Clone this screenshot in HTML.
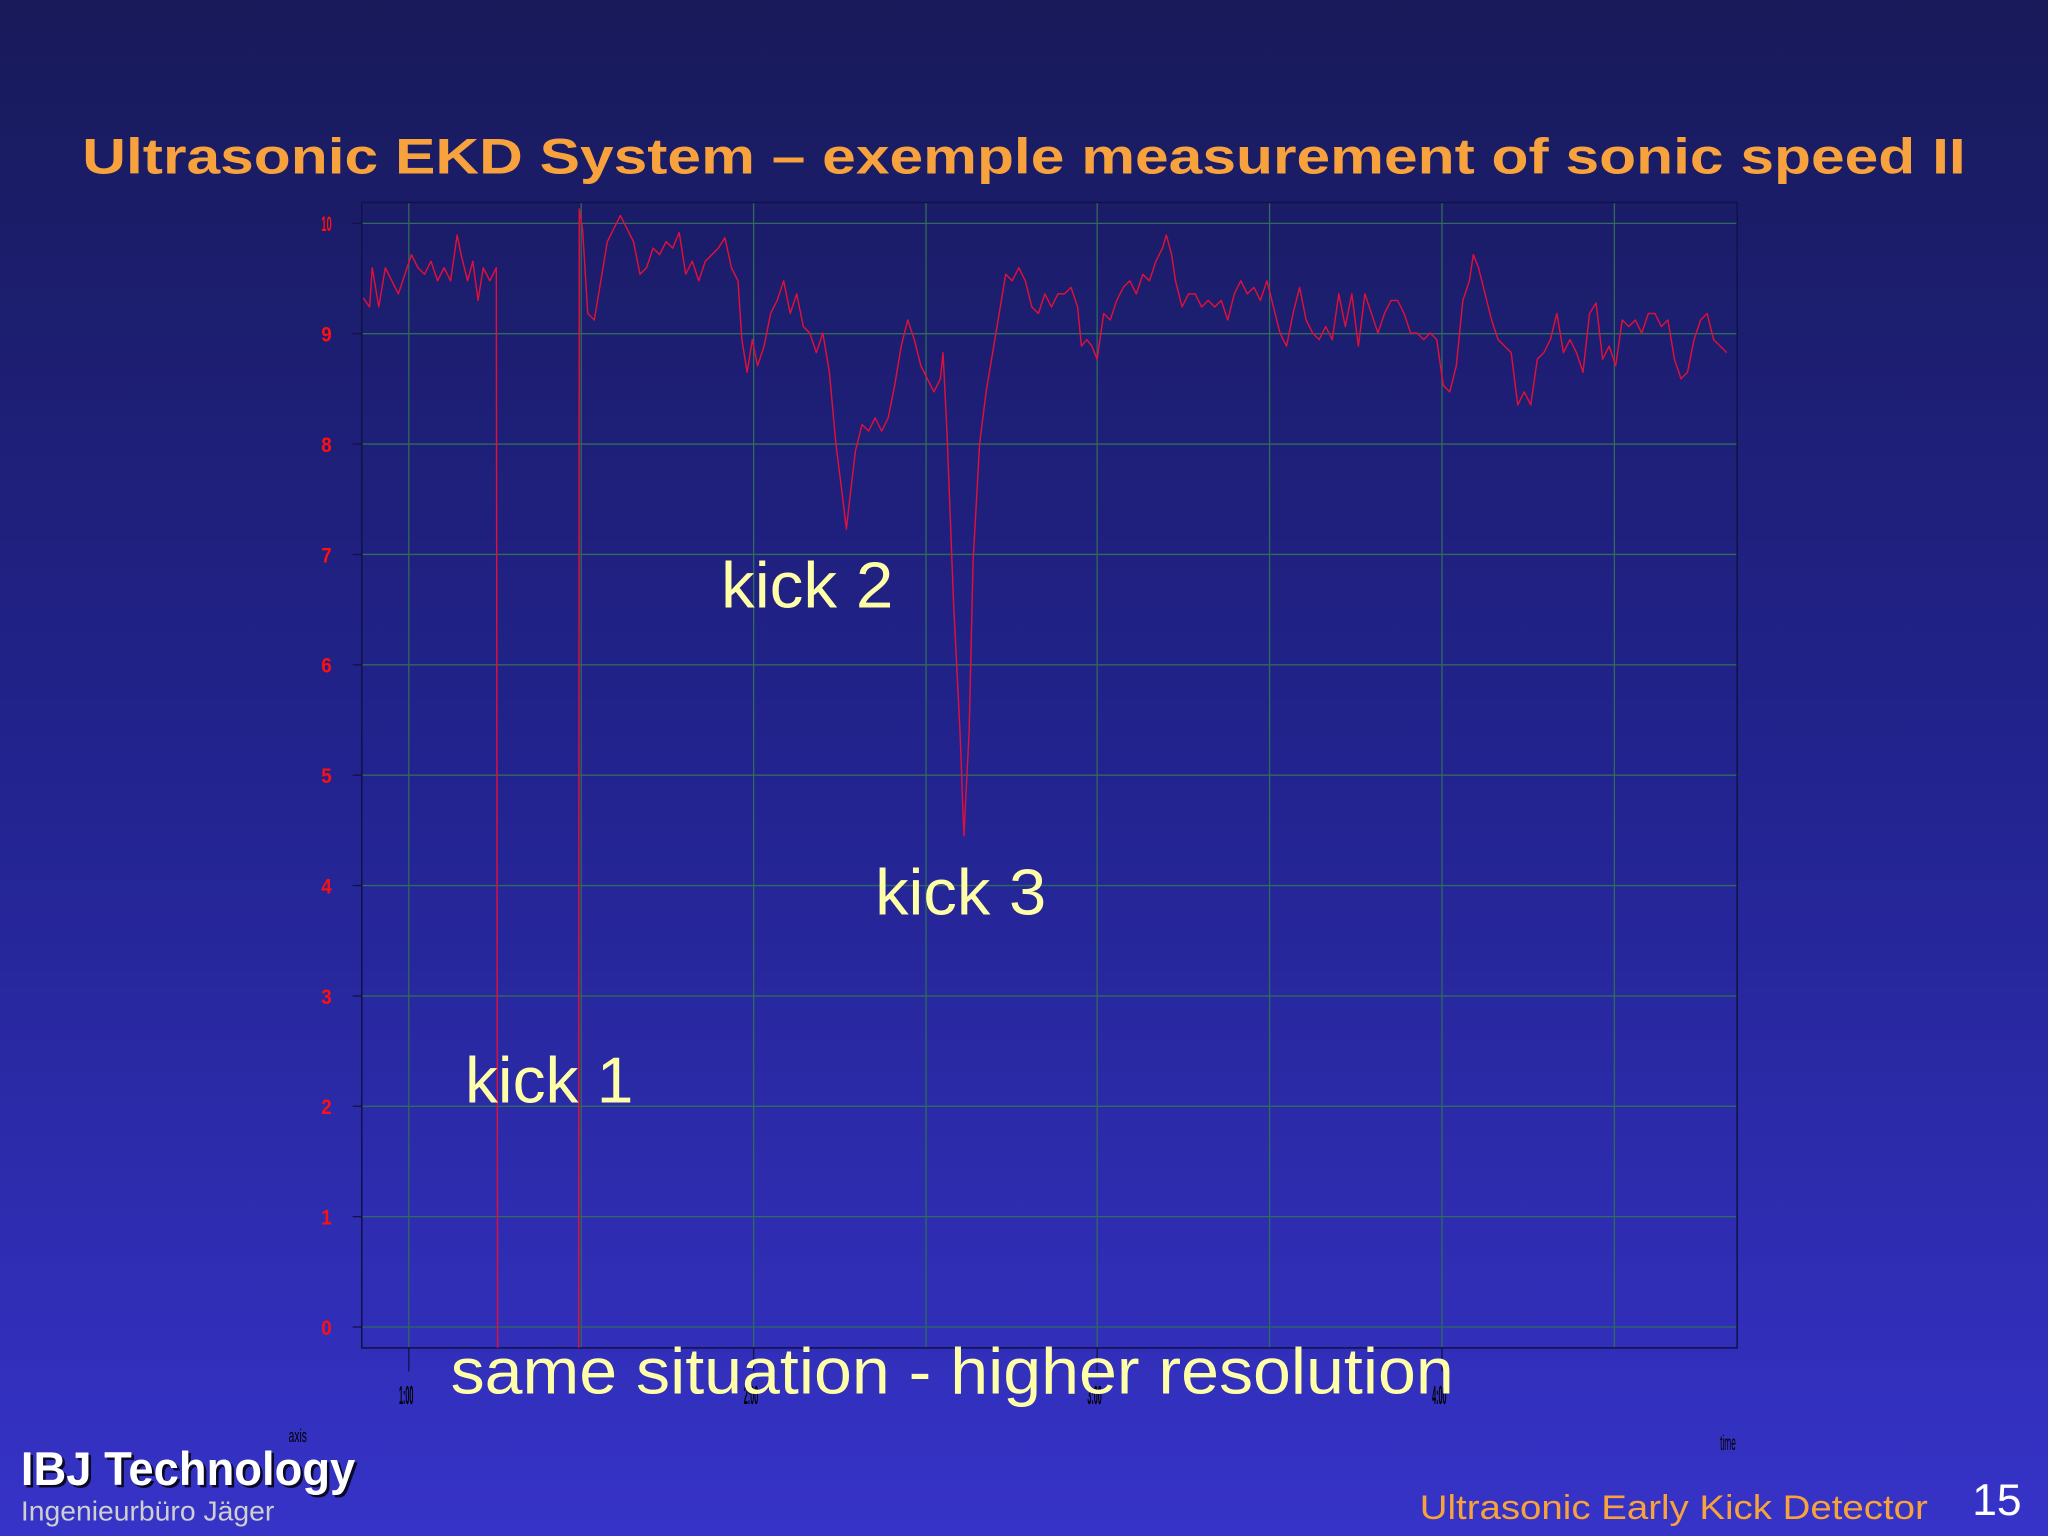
<!DOCTYPE html>
<html><head><meta charset="utf-8"><style>
html,body{margin:0;padding:0;width:2048px;height:1536px;overflow:hidden;background:#24249a}
svg{display:block}
text{font-family:"Liberation Sans",sans-serif}
</style></head><body>
<svg id="chart" width="2048" height="1536" viewBox="0 0 1568 1176" xmlns="http://www.w3.org/2000/svg">
<defs><linearGradient id="bg" x1="0" y1="0" x2="0" y2="1">
<stop offset="0" stop-color="#181a5a"/><stop offset="0.5" stop-color="#22238e"/><stop offset="1" stop-color="#3633c8"/></linearGradient></defs>
<rect x="0" y="0" width="1568" height="1176" fill="url(#bg)"/>
<text x="63" y="133" font-size="38" font-weight="bold" fill="#f7a23c" textLength="1442" lengthAdjust="spacingAndGlyphs">Ultrasonic EKD System – exemple measurement of sonic speed II</text>
<g id="grid"></g>
<rect x="277" y="155" width="1053" height="877" fill="none" stroke="#12124a" stroke-width="1.2"/>
<g id="yticks"></g>
<g id="xticks"></g>
<g id="series"></g>
<text x="221" y="1104" font-size="14" fill="#000" textLength="14" lengthAdjust="spacingAndGlyphs">axis</text>
<text x="1317" y="1110" font-size="16" fill="#000" textLength="12" lengthAdjust="spacingAndGlyphs">time</text>
<text x="552" y="465" font-size="50" fill="#ffffa8" textLength="132" lengthAdjust="spacingAndGlyphs">kick 2</text>
<text x="670" y="700" font-size="50" fill="#ffffa8" textLength="131" lengthAdjust="spacingAndGlyphs">kick 3</text>
<text x="356" y="844" font-size="50" fill="#ffffa8" textLength="129" lengthAdjust="spacingAndGlyphs">kick 1</text>
<text x="345" y="1067" font-size="50" fill="#ffffa8" textLength="768" lengthAdjust="spacingAndGlyphs">same situation - higher resolution</text>
<text x="18" y="1139" font-size="36" font-weight="bold" fill="#000" opacity="0.8" textLength="256" lengthAdjust="spacingAndGlyphs">IBJ Technology</text>
<text x="16" y="1137" font-size="36" font-weight="bold" fill="#fff" textLength="256" lengthAdjust="spacingAndGlyphs">IBJ Technology</text>
<text x="16" y="1164" font-size="21" fill="#cfcfcf" textLength="194" lengthAdjust="spacingAndGlyphs">Ingenieurbüro Jäger</text>
<text x="1087" y="1163" font-size="26" fill="#f7a23c" textLength="389" lengthAdjust="spacingAndGlyphs">Ultrasonic Early Kick Detector</text>
<text x="1510" y="1160" font-size="34" fill="#fff">15</text>
</svg>
<script>
const times=[278,283,285,290,295,300,305,310,315,320,325,330,335,340,345,350,353,358,362,366,370,375,380,381,443,443.5,446,450,455,460,465,470,475,480,485,490,495,500,505,510,515,520,525,530,535,540,545,550,555,560,565,568,572,576,580,585,590,595,600,605,610,615,620,625,630,635,640,645,648,652,655,660,665,670,675,680,685,690,695,700,705,710,715,720,722,725,730,735,738,742,745,750,755,760,765,770,775,780,785,790,795,800,805,810,815,820,825,828,832,836,840,845,850,855,860,865,870,875,880,885,890,893,897,900,905,910,915,920,925,930,935,940,945,950,955,960,965,970,975,980,985,990,995,1000,1005,1010,1015,1020,1025,1030,1035,1040,1045,1050,1055,1060,1065,1070,1075,1080,1085,1090,1095,1100,1105,1110,1115,1120,1125,1128,1132,1137,1142,1147,1152,1157,1162,1167,1172,1177,1182,1187,1192,1197,1202,1207,1212,1217,1222,1227,1232,1237,1242,1247,1252,1257,1262,1267,1272,1277,1282,1287,1292,1297,1302,1307,1312,1317,1322];
const speeds=[788,781,811,781,811,801,791,806,821,811,806,816,801,811,801,836,821,801,816,786,811,801,811,-16,-16,856,841,776,771,801,831,841,851,841,831,806,811,826,821,831,826,838,806,816,801,816,821,826,834,811,801,756,731,756,736,751,776,786,801,776,791,766,761,746,761,731,676,636,611,646,671,691,686,696,686,696,721,751,771,756,736,726,716,726,746,686,556,456,376,456,586,676,716,746,776,806,801,811,801,781,776,791,781,791,791,796,781,751,756,751,741,776,771,786,796,801,791,806,801,816,826,836,821,801,781,791,791,781,786,781,786,771,791,801,791,796,786,801,781,761,751,776,796,771,761,756,766,756,791,766,791,751,791,776,761,776,786,786,776,761,761,756,761,756,721,716,736,786,801,821,811,791,771,756,751,746,706,716,706,741,746,756,776,746,756,746,731,776,784,741,751,736,771,766,771,761,776,776,766,771,741,726,731,756,771,776,756,751,746];
const gapAfter=[23];
const yTicks=[0,84.5,169,253.5,338,422.5,507,591.5,676,760.5,845];
const yTickLabels=["0","1","2","3","4","5","6","7","8","9","10"];
const xGrid=[313,445,577,709,840,972,1104,1236];
const xTickVals=[313,577,840,1104];
const xTickLabels=["1:00","2:00","3:00","4:00"];
const NS='http://www.w3.org/2000/svg';
function xScale(t){return 277+(t-277)*(1330-277)/(1330-277);}
function yScale(v){return 1016-v;}
function mk(tag,attrs,parent){const e=document.createElementNS(NS,tag);for(const k in attrs)e.setAttribute(k,attrs[k]);parent.appendChild(e);return e;}
const grid=document.getElementById('grid');
yTicks.forEach((v,i)=>{const l=mk('line',{x1:277,x2:1330,y1:yScale(v),y2:yScale(v),stroke:'#2f6a5a','stroke-width':1},grid);

});
xGrid.forEach(t=>{const l=mk('line',{x1:xScale(t),x2:xScale(t),y1:155,y2:1032,stroke:'#2f6a5a','stroke-width':1},grid);

});
const yt=document.getElementById('yticks');
yTicks.forEach((v,i)=>{const t=mk('text',{x:250,y:yScale(v)+6,'font-size':16,'font-weight':'bold',fill:'#ff1010','text-anchor':'middle',textLength:8,lengthAdjust:'spacingAndGlyphs'},yt);t.textContent=yTickLabels[i];


const tk=mk('line',{x1:270,x2:277,y1:yScale(v),y2:yScale(v),stroke:'#12124a'},yt);

});
const xt=document.getElementById('xticks');
xTickVals.forEach((v,i)=>{const tk=mk('line',{x1:xScale(v),x2:xScale(v),y1:1032,y2:1050,stroke:'#12124a'},xt);


const t=mk('text',{x:xScale(v)-2,y:1075,'font-size':20,'font-weight':'bold',fill:'#000','text-anchor':'middle',textLength:11,lengthAdjust:'spacingAndGlyphs'},xt);t.textContent=xTickLabels[i];

});
const s=document.getElementById('series');
const d=times.map((t,i)=>((i===0||gapAfter.includes(i-1))?'M':'L')+xScale(t).toFixed(1)+' '+yScale(speeds[i]).toFixed(1)).join(' ');
const p=mk('path',{d:d,fill:'none',stroke:'#e0103a','stroke-width':1.1,'stroke-linejoin':'round'},s);


</script>
</body></html>
